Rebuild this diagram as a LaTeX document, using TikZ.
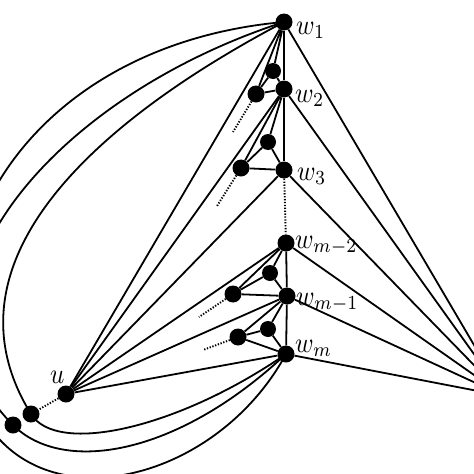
\documentclass[tikz,border=0pt]{standalone}
\pgfdeclarelayer{bg}
\pgfsetlayers{bg,main}
\begin{document}
\begin{tikzpicture}[x=1pt,y=-1pt,
 vtx/.style={circle,fill=black,inner sep=0pt,minimum size=17pt},
 svtx/.style={vtx,minimum size=16pt},
 edge/.style={line width=1.8pt},
 dotline/.style={line width=1.9pt,dash pattern=on 1.3pt off 1.6pt},
 lab/.style={inner sep=0pt,anchor=base west}]
\useasboundingbox (0,0) rectangle (474,474);
\clip (0,0) rectangle (474,474);
% main vertices
\node[vtx] (w1) at (284,22) {};
\node[vtx] (w2) at (284,89) {};
\node[vtx] (w3) at (284,170) {};
\node[vtx] (wm2) at (286,243) {};
\node[vtx] (wm1) at (287,296) {};
\node[vtx] (wm) at (286,354) {};
\node[vtx] (u) at (66,394) {};
\node[vtx] (p) at (31,414) {};
\node[vtx] (q) at (13,425) {};
\coordinate (v) at (504,396);
\coordinate (ox) at (-40,320);
% gadget vertices
\node[svtx] (a) at (273,71) {};
\node[vtx] (b) at (256,94) {};
\node[svtx] (c) at (268,142) {};
\node[vtx] (d) at (241,168) {};
\node[svtx] (e) at (270,273) {};
\node[vtx] (f) at (233,294) {};
\node[svtx] (g) at (268,329) {};
\node[vtx] (h) at (238,337) {};
% dotted ends
\coordinate (bd) at (233,132);
\coordinate (dd) at (217,206);
\coordinate (fd) at (199,317);
\coordinate (hd) at (203,350);
% labels
\node[lab] (lw1) at (296,34) {\scalebox{2.5}[2.85]{$w_1$}};
\node[lab] (lw2) at (295,102) {\scalebox{2.5}[2.85]{$w_2$}};
\node[lab] (lw3) at (297,180) {\scalebox{2.5}[2.85]{$w_3$}};
\node[lab] (lwm2) at (295,248) {\scalebox{2.5}[2.85]{$w_{m-2}$}};
\node[lab] (lwm1) at (296,305) {\scalebox{2.5}[2.85]{$w_{m-1}$}};
\node[lab] (lwm) at (295,352) {\scalebox{2.5}[2.85]{$w_m$}};
\node[lab] (lu) at (50,383) {\scalebox{2.5}[2.85]{$u$}};
% edges
\draw[edge] (w1) -- (w2) -- (w3);
\draw[edge] (wm2) -- (wm1) -- (wm);
\draw[edge] (w1) -- (a) (w1) -- (b) (a) -- (b) (a) -- (w2) (b) -- (w2);
\draw[edge] (w2) -- (c) (w2) -- (d) (c) -- (d) (c) -- (w3) (d) -- (w3);
\draw[edge] (wm2) -- (e) (wm2) -- (f) (e) -- (f) (e) -- (wm1) (f) -- (wm1);
\draw[edge] (wm1) -- (g) (wm1) -- (h) (g) -- (h) (g) -- (wm) (h) -- (wm);
\foreach \n in {w1,w2,w3,wm2,wm1,wm} {
  \draw[edge] (u) -- (\n);
  \draw[edge] (\n) -- (v);
}
\draw[dotline] (b) -- (bd);
\draw[dotline] (d) -- (dd);
\draw[dotline] (f) -- (fd);
\draw[dotline] (h) -- (hd);
\draw[dotline] (w3) -- (wm2);
\draw[dotline] (u) -- (p);
\begin{pgfonlayer}{bg}
% inner curve through p
\draw[edge] (w1.center) .. controls (98,120) and (-63.5,261) .. (p.center)
  .. controls (57,456) and (179,428) .. (wm.center);
% middle curve through q
\draw[edge] (w1.center) .. controls (46,99) and (-114,298) .. (q.center)
  .. controls (62.5,474.5) and (176.5,456.5) .. (wm.center);
% outer curve
\draw[edge] (w1.center) .. controls (85,39.6) and (-40,170) .. (ox)
  .. controls (-38,540) and (202,509) .. (wm.center);
\end{pgfonlayer}
\end{tikzpicture}
\end{document}
